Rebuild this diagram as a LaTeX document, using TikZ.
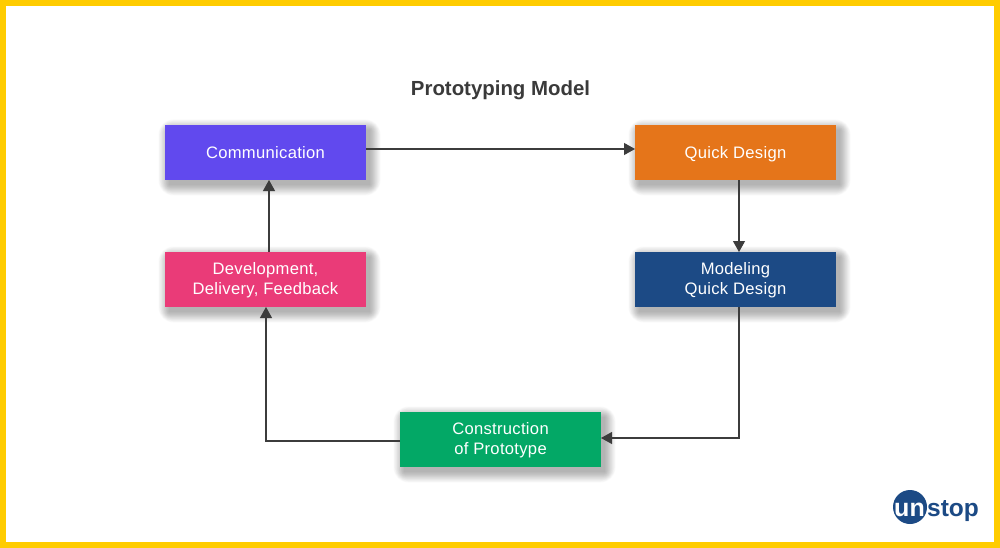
\documentclass[tikz,border=0pt]{standalone}
\usepackage{fontspec}
\setmainfont{Liberation Sans}
\newfontfamily\logofont{Liberation Sans}
\newfontfamily\boxfont[LetterSpace=1.8]{Liberation Sans}
\usetikzlibrary{arrows.meta,calc}
\definecolor{framey}{HTML}{FFCC00}
\definecolor{cpurple}{HTML}{6149EE}
\definecolor{corange}{HTML}{E5751A}
\definecolor{cblue}{HTML}{1C4A85}
\definecolor{cpink}{HTML}{EA3B78}
\definecolor{cgreen}{HTML}{03A866}
\definecolor{cline}{HTML}{3C3C3C}
\definecolor{ctitle}{HTML}{3A3A3A}
\newcommand{\softshadow}[4]{%
  \foreach \g in {15,14,...,0}{%
    \fill[black,opacity=0.02,rounded corners=\g pt]
      ({#1+4-\g*0.7},{#2+5-\g*0.7}) rectangle ({#3+4+\g*0.7},{#4+5+\g*0.7});
  }%
}
\tikzset{
  box/.style={minimum width=201pt,minimum height=55pt,inner sep=0pt,outer sep=0pt},
  boxtext/.style={text=white,align=center,font=\boxfont\fontsize{16.6}{19.5}\selectfont,inner sep=0pt},
  conn/.style={draw=cline,line width=1.15pt,-{Triangle[length=11pt,width=12pt]}},
}
\begin{document}
\begin{tikzpicture}[x=1pt,y=-1pt]
\useasboundingbox (0,0) rectangle (1000,548);
\fill[framey] (0,0) rectangle (1000,548);
\fill[white] (6,6) rectangle (994,542);
\node[font=\fontsize{20.4}{22}\selectfont\bfseries,text=ctitle] (title) at (500.5,90.5) {Prototyping Model};
\softshadow{165}{125}{366}{180}
\softshadow{635}{125}{836}{180}
\softshadow{635}{252}{836}{307}
\softshadow{165}{252}{366}{307}
\softshadow{400}{412}{601}{467}
\node[box,fill=cpurple] (comm) at (265.5,152.5) {};
\node[box,fill=corange] (quick) at (735.5,152.5) {};
\node[box,fill=cblue] (model) at (735.5,279.5) {};
\node[box,fill=cpink] (dev) at (265.5,279.5) {};
\node[box,fill=cgreen] (cons) at (500.5,439.5) {};
\node[boxtext] (commt) at (265.5,152.5) {Communication};
\node[boxtext] (quickt) at (735.5,154) {Quick Design};
\node[boxtext] (modelt) at (735.5,280) {Modeling\\Quick Design};
\node[boxtext] (devt) at (265.5,280) {Development,\\Delivery, Feedback};
\node[boxtext] (const) at (500.5,440) {Construction\\of Prototype};
\draw[conn] ([yshift=3.5pt]comm.east) -- ([yshift=3.5pt]quick.west);
\draw[conn] ([xshift=3.5pt]quick.south) -- ([xshift=3.5pt]model.north);
\draw[conn] ([xshift=3.5pt]model.south) |- ([yshift=1.5pt]cons.east);
\draw[conn] ([yshift=-1.5pt]cons.west) -| ([xshift=.5pt]dev.south);
\draw[conn] ([xshift=3.5pt]dev.north) -- ([xshift=3.5pt]comm.south);
\fill[cblue] (910,507) circle (17pt);
\node[inner sep=0pt,font=\logofont\fontsize{25}{25}\selectfont\bfseries,text=white,anchor=base] (logoun) at (909.5,516) {un};
\node[inner sep=0pt,font=\logofont\fontsize{24.5}{25}\selectfont\bfseries,text=cblue,anchor=base west] (logostop) at (927,516) {stop};
\end{tikzpicture}
\end{document}
